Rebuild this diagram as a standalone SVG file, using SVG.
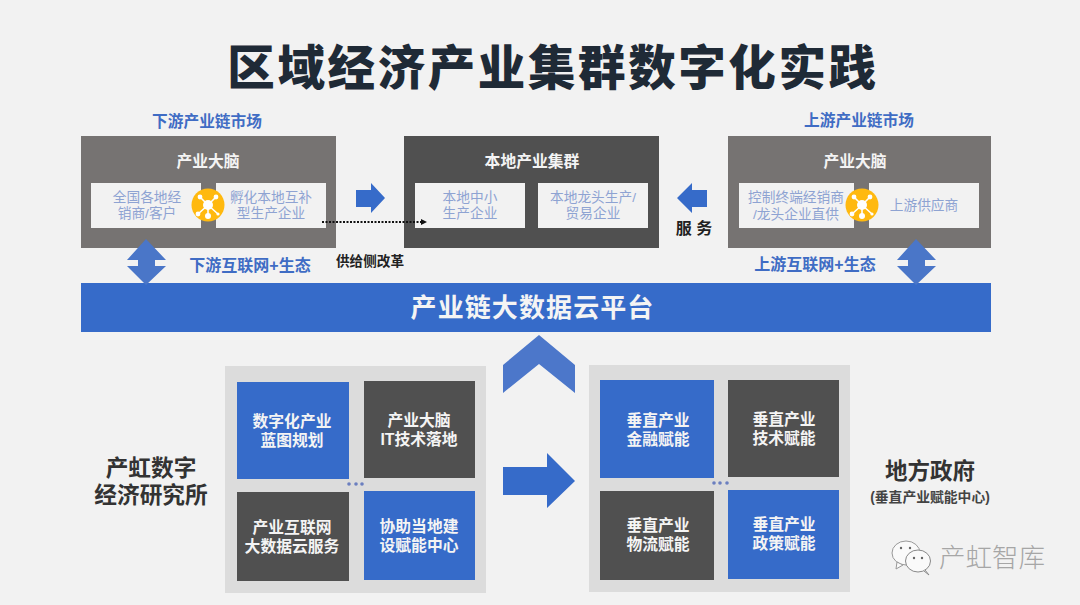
<svg xmlns="http://www.w3.org/2000/svg" width="1080" height="605" viewBox="0 0 1080 605">
<style>
text{font-family:"Liberation Sans","Noto Sans CJK SC",sans-serif;text-anchor:middle}
.b{font-weight:700}
.w{fill:#f4f4f4;font-weight:700}
.bl{fill:#3f6cc4;font-weight:700}
.lt{fill:#8ea3d2;font-weight:400;font-size:13.7px}
.m{font-size:15.8px}
.blue{fill:#366bc9}
.dk{fill:#505050}
.gr{fill:#767372}
.pan{fill:#dcdcdc}
.card{fill:#f2f2f2}
.dot{fill:#6b7fbf}
</style>
<defs>
<g id="hub">
<circle r="16.5" fill="#ffb90f"/>
<g stroke="#fff" stroke-width="1.6"><path d="M0 0L-8 -8M0 0L8 -8M0 0L0 11M0 0L-10 9M0 0L10 9"/></g>
<circle r="5" fill="#fff"/><circle cx="-8" cy="-8" r="2.4" fill="#fff"/><circle cx="8" cy="-8" r="2.4" fill="#fff"/><circle cy="11" r="3" fill="#fff"/><circle cx="-10" cy="9" r="2.4" fill="#fff"/><circle cx="10" cy="9" r="1.6" fill="#fff"/>
</g>
</defs>
<rect width="1080" height="605" fill="#f2f2f2"/>
<text id="title" x="553" y="85" font-size="47.5" font-weight="900" fill="#1f2a36" letter-spacing="2.6">区域经济产业集群数字化实践</text>

<g id="node-down">
<text x="207" y="127" font-size="15.7" class="bl">下游产业链市场</text>
<rect class="gr" x="81" y="136" width="255" height="112"/>
<text x="208" y="167" class="w m">产业大脑</text>
<rect class="card" x="91" y="183" width="110" height="45"/>
<rect class="card" x="216" y="183" width="110" height="45"/>
<text class="lt" y="202"><tspan x="147">全国各地经</tspan><tspan x="147" dy="16">销商/客户</tspan></text>
<text class="lt" y="202"><tspan x="271">孵化本地互补</tspan><tspan x="271" dy="16">型生产企业</tspan></text>
<use href="#hub" x="208" y="205"/>
</g>

<g id="node-local">
<rect fill="#505050" x="404" y="136" width="255" height="112"/>
<text x="532" y="167" class="w m">本地产业集群</text>
<rect class="card" x="415" y="183" width="110" height="45"/>
<rect class="card" x="538" y="183" width="110" height="45"/>
<text class="lt" y="202"><tspan x="470">本地中小</tspan><tspan x="470" dy="16">生产企业</tspan></text>
<text class="lt" y="202"><tspan x="593">本地龙头生产/</tspan><tspan x="593" dy="16">贸易企业</tspan></text>
</g>

<g id="node-up">
<text x="859" y="126" font-size="15.7" class="bl">上游产业链市场</text>
<rect class="gr" x="728" y="136" width="263" height="112"/>
<text x="855" y="167" class="w m">产业大脑</text>
<rect class="card" x="739" y="183" width="115" height="45"/>
<rect class="card" x="869" y="183" width="110" height="45"/>
<text class="lt" y="202"><tspan x="796">控制终端经销商</tspan><tspan x="796" dy="17">/龙头企业直供</tspan></text>
<text x="924" y="210" class="lt">上游供应商</text>
<use href="#hub" x="862" y="205"/>
</g>

<g id="node-platform">
<rect class="blue" x="81" y="283" width="910" height="49"/>
<text x="532.5" y="317" font-size="26" class="w" letter-spacing="1.1">产业链大数据云平台</text>
</g>

<g id="connectors">
<path class="blue" d="M356 190H371V183L385 198L371 213V207H356Z"/>
<path class="blue" d="M707 190H692V183L677 198L692 213V207H707Z"/>
<path d="M322 222H421" fill="none" stroke="#111" stroke-width="2" stroke-dasharray="2 1.5"/>
<path d="M421 219L427 222L421 225Z" fill="#111"/>
<path d="M146 239L166 260H155V266H166L146 285L127 266H138V260H127Z" fill="#4a76c8"/>
<path d="M916 239L936 260H925V266H936L916 285L897 266H908V260H897Z" fill="#4a76c8"/>
<path d="M539 335L575 365V393L539 364L503 393V365Z" fill="#4c77ca"/>
<path class="blue" d="M503 467H547V453L575 481L547 508V495H503Z"/>
</g>

<g id="labels">
<text x="250" y="271" font-size="16" class="bl">下游互联网+生态</text>
<text x="815" y="270" font-size="16" class="bl">上游互联网+生态</text>
<text x="370" y="266" font-size="13.6" class="b" fill="#222">供给侧改革</text>
<text x="694" y="234" font-size="16" class="b" fill="#222">服 务</text>
</g>

<g id="node-research">
<rect class="pan" x="225" y="366" width="261" height="227"/>
<rect class="blue" x="237" y="382" width="112" height="97"/>
<rect class="dk" x="364" y="381" width="111" height="97"/>
<rect class="dk" x="237" y="492" width="112" height="89"/>
<rect class="blue" x="364" y="491" width="111" height="89"/>
<text class="w m" y="427"><tspan x="292">数字化产业</tspan><tspan x="292" dy="19">蓝图规划</tspan></text>
<text class="w m" y="426"><tspan x="419">产业大脑</tspan><tspan x="419" dy="18.5">IT技术落地</tspan></text>
<text class="w m" y="533"><tspan x="292">产业互联网</tspan><tspan x="292" dy="19">大数据云服务</tspan></text>
<text class="w m" y="532"><tspan x="419">协助当地建</tspan><tspan x="419" dy="19">设赋能中心</tspan></text>
<circle class="dot" cx="349" cy="484" r="1.8"/><circle class="dot" cx="356" cy="484" r="1.8"/><circle class="dot" cx="362" cy="484" r="1.8"/>
<text class="b" font-size="22.7" fill="#333" y="476"><tspan x="151">产虹数字</tspan><tspan x="151" dy="27">经济研究所</tspan></text>
</g>

<g id="node-gov">
<rect class="pan" x="589" y="365" width="261" height="227"/>
<rect class="blue" x="600" y="380" width="114" height="98"/>
<rect class="dk" x="728" y="380" width="111" height="97"/>
<rect class="dk" x="600" y="491" width="114" height="89"/>
<rect class="blue" x="728" y="490" width="111" height="89"/>
<text class="w m" y="426"><tspan x="658">垂直产业</tspan><tspan x="658" dy="19">金融赋能</tspan></text>
<text class="w m" y="425"><tspan x="784">垂直产业</tspan><tspan x="784" dy="18.5">技术赋能</tspan></text>
<text class="w m" y="531"><tspan x="658">垂直产业</tspan><tspan x="658" dy="19">物流赋能</tspan></text>
<text class="w m" y="530"><tspan x="784">垂直产业</tspan><tspan x="784" dy="19">政策赋能</tspan></text>
<circle class="dot" cx="714" cy="483" r="1.8"/><circle class="dot" cx="720" cy="483" r="1.8"/><circle class="dot" cx="727" cy="483" r="1.8"/>
<text x="930" y="479" font-size="22.5" class="b" fill="#333">地方政府</text>
<text x="930" y="502" font-size="13.8" class="b" fill="#444">(垂直产业赋能中心)</text>
</g>

<g id="watermark">
<ellipse cx="906" cy="553" rx="14" ry="12" fill="#fafafa" stroke="#999" stroke-width="1"/>
<ellipse cx="918" cy="561" rx="12.5" ry="11" fill="#fafafa" stroke="#888" stroke-width="1"/>
<path d="M897 562L896 569L903 565Z" fill="#fafafa" stroke="#999" stroke-width="1"/>
<path d="M925 570L929 575L924 571" fill="#fafafa" stroke="#888" stroke-width="1"/>
<circle cx="901" cy="548" r="1.2" fill="#666"/><circle cx="910" cy="548" r="1.2" fill="#666"/><circle cx="914" cy="558" r="1.2" fill="#666"/><circle cx="922" cy="558" r="1.2" fill="#666"/>
<text x="992" y="567" font-size="26.5" fill="#a6a6a6" font-weight="300">产虹智库</text>
</g>
</svg>
